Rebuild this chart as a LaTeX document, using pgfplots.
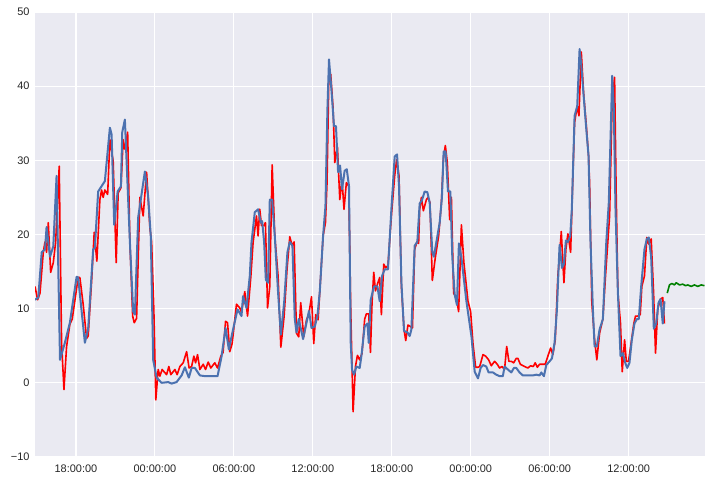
\documentclass[border=0pt]{standalone}
\usepackage{pgfplots}
\pgfplotsset{compat=1.18}
\usepackage{fontspec}
\setmainfont{Liberation Sans}
\definecolor{bgc}{HTML}{EAEAF2}
\definecolor{sblue}{HTML}{4C72B0}
\definecolor{tgray}{HTML}{262626}
\definecolor{mgreen}{HTML}{008000}
\begin{document}
\begin{tikzpicture}
\begin{axis}[
  scale only axis, width=670bp, height=445bp,
  xmin=-3.11, xmax=47.8, ymin=-10, ymax=50,
  axis background/.style={fill=bgc},
  axis line style={draw=none},
  major tick length=0pt,
  grid=major, major grid style={white, line width=1.2bp},
  xtick={0,6,12,18,24,30,36,42},
  xticklabels={18:00:00,00:00:00,06:00:00,12:00:00,18:00:00,00:00:00,06:00:00,12:00:00},
  ytick={-10,0,10,20,30,40,50},
  yticklabels={−10,0,10,20,30,40,50},
  ticklabel style={font=\fontsize{11}{13}\selectfont, text=tgray},
  xticklabel style={yshift=-4bp},
  yticklabel style={xshift=-2bp},
  clip=true,
]
\addplot[red, line width=1.6bp, line join=round] table {
-3.11 13
-2.91 11.2
-2.73 12.1
-2.48 17.6
-2.35 19
-2.23 17.6
-2.10 21.6
-1.92 14.9
-1.72 16.2
-1.54 19
-1.27 29.2
-1.09 5.4
-0.91 -0.9
-0.71 4.9
-0.46 7.9
-0.28 8.6
0.17 14.2
0.30 14.2
0.55 10.6
0.81 6
0.93 6.3
1.19 13.7
1.39 20.3
1.59 16.4
1.82 24.7
1.95 26
2.07 25
2.20 26
2.41 25.4
2.58 32.8
2.83 29.9
3.06 16.2
3.21 25.6
3.42 26.3
3.59 32.8
3.72 31.5
3.93 33.8
4.10 19
4.31 9
4.43 8.1
4.61 8.7
4.86 25
5.11 22.5
5.37 28.4
5.62 20.9
5.75 19
5.92 9.9
6.07 -2.3
6.25 1.8
6.38 0.9
6.55 1.8
6.89 1.1
7.06 2.2
7.21 1.1
7.52 1.8
7.69 1.1
7.90 2.2
8.15 2.7
8.41 4.2
8.60 2
8.79 2.2
8.96 3.6
9.09 2.7
9.24 3.8
9.42 1.8
9.67 2.5
9.85 1.8
10.05 2.8
10.25 2
10.55 2.7
10.76 2
11.01 3.6
11.18 4.1
11.37 8.3
11.52 8.1
11.69 4.2
11.87 5.3
12.20 10.6
12.45 10.1
12.58 9.5
12.83 12.3
13.04 9.0
13.29 14.3
13.46 18.9
13.72 22.5
13.84 19.8
13.97 23.4
14.10 21.2
14.28 21.2
14.40 21.6
14.56 10.1
14.73 13
14.91 29.4
15.11 19.8
15.36 14.4
15.57 4.8
15.82 9
16.04 15.3
16.25 19.7
16.42 18.5
16.58 19
16.76 6.7
16.93 6.2
17.08 10.8
17.31 6.2
17.52 8.5
17.69 9.2
17.90 11.6
18.07 5.3
18.22 9.2
18.40 8.5
18.60 14.4
18.78 19.8
18.96 21.6
19.08 27
19.21 40.5
19.36 41.6
19.54 37
19.67 29.7
19.87 31.8
20.05 24.7
20.22 27.4
20.37 23.4
20.55 27
20.73 26.5
20.88 9.9
21.06 -3.9
21.24 2.2
21.39 3.7
21.56 3.1
21.74 4
21.94 8.6
22.07 9.3
22.25 9.3
22.38 4.1
22.50 10.8
22.63 14.9
22.76 12.4
22.91 13.3
23.08 14.2
23.21 9.2
23.39 16
23.54 15.5
23.71 15.8
23.97 22.5
24.22 27.9
24.37 30.1
24.55 27.9
24.73 13
24.93 7.2
25.06 5.7
25.23 7.8
25.41 7.6
25.57 7.4
25.74 18
25.91 19
26.04 18.8
26.12 23.4
26.25 25
26.40 23.2
26.63 24.7
26.75 25
26.90 24.3
27.08 13.8
27.31 16.9
27.56 19.8
27.77 24.3
27.92 30.2
28.07 32
28.22 29.7
28.40 22
28.53 25
28.70 12.1
28.91 11.4
29.08 9.6
29.29 21.3
29.48 16.2
29.79 11
29.99 9.6
30.17 5.3
30.37 2.1
30.55 2.1
30.68 2.2
30.93 3.8
31.13 3.6
31.36 3.1
31.56 2.3
31.81 2.9
32.02 2.5
32.19 2
32.37 2.2
32.57 1.8
32.73 4.9
32.90 2.9
33.08 2.9
33.26 2.7
33.46 3.3
33.58 3.3
33.77 2.5
34.09 2.2
34.34 2
34.55 2.3
34.75 2.2
34.90 2.7
35.06 2.1
35.23 2.5
35.48 2.5
35.66 2.5
35.86 3.6
36.07 4.7
36.24 3.8
36.42 5.8
36.62 14.4
36.75 17.1
36.88 20.4
37.08 13.5
37.23 18
37.38 20.1
37.59 17.6
37.76 27.9
37.89 35.1
38.09 37.3
38.22 36
38.40 44.6
38.57 39.2
38.78 34.7
38.95 30.6
39.03 27
39.20 10.8
39.41 5.8
39.58 3.1
39.79 6.7
40.04 8.6
40.24 14.4
40.55 22.5
40.75 38.3
40.93 41.2
41.05 25.6
41.18 12.2
41.38 8
41.51 1.5
41.69 5.8
41.82 2.9
41.99 2.9
42.19 5.4
42.39 8
42.52 9
42.70 9
42.88 9.2
43.00 13
43.20 14.4
43.38 19.6
43.53 18.7
43.71 19.4
43.89 12.3
44.04 4
44.21 10
44.42 11.3
44.59 11.5
44.72 8
};
\addplot[sblue, line width=2bp, line join=round] table {
-3.11 11.2
-2.86 11.5
-2.60 17.6
-2.35 18
-2.23 21
-1.97 17
-1.72 18.4
-1.47 27.9
-1.21 3.1
-0.84 5.4
-0.46 8.1
0.05 14.3
0.17 14.2
0.68 5.4
0.93 7.3
1.31 18
1.44 18.2
1.69 25.8
2.20 27.2
2.58 34.4
2.71 33.5
2.91 21.3
3.17 25.8
3.42 26.5
3.52 33.8
3.72 35.5
4.10 19
4.35 9.6
4.48 9.2
4.73 22.3
5.24 28.5
5.49 25.1
5.69 19.7
5.87 3.1
6.13 0.7
6.51 0
7.01 0.1
7.27 -0.1
7.65 0.1
8.03 1
8.28 2.1
8.58 0.7
8.79 2
9.04 2
9.42 1
9.80 0.9
10.30 0.9
10.76 0.9
11.06 3.5
11.37 7.4
11.62 4.5
11.94 7.2
12.28 9.9
12.58 9
12.70 11.7
12.96 10.1
13.21 14.4
13.34 18.9
13.59 23
13.84 23.4
14.05 21.6
14.15 21.8
14.30 19
14.43 13.9
14.60 13.5
14.73 24.7
14.91 24.7
15.11 19.8
15.36 12.2
15.57 6.5
15.82 10.8
16.07 17.6
16.25 19
16.45 18.5
16.63 8.6
16.76 6.8
16.93 8.6
17.26 5.9
17.52 8.1
17.71 9.7
17.90 7.4
18.15 7.6
18.35 9
18.53 12.3
18.78 19.8
18.96 23.8
19.11 36.9
19.23 43.6
19.41 39.6
19.61 34.6
19.76 34.6
19.92 28.4
20.07 29.3
20.22 26.1
20.42 28.6
20.58 28.8
20.75 26.5
20.88 5.4
20.98 1.8
21.13 1.1
21.31 2.2
21.56 2
21.69 3.6
21.94 7.6
22.15 8
22.25 5.4
22.40 11.2
22.65 13
22.91 13
23.08 11
23.26 14.4
23.46 15.3
23.71 15.3
23.97 23.4
24.22 30.5
24.40 30.8
24.55 26.5
24.73 13.6
24.93 7
25.19 6.8
25.36 6.3
25.49 7.2
25.74 18.5
25.94 19
26.12 24.2
26.29 24.6
26.50 25.8
26.70 25.7
26.88 24.3
27.08 17.6
27.20 17
27.39 19
27.64 21.6
27.81 25
27.94 31.2
28.09 31.2
28.27 25.8
28.45 25.8
28.60 16.9
28.78 11.9
28.95 10.5
29.10 18.8
29.29 16.9
29.67 11
30.05 6.3
30.30 1.5
30.55 0.6
30.75 2
30.93 2.4
31.18 2.2
31.36 1.4
31.69 1.4
31.94 1.1
32.19 0.9
32.44 0.9
32.57 2.2
32.82 1.8
33.08 1.4
33.28 2
33.46 2
33.71 1.4
33.96 1
34.34 1
34.72 1
34.98 1.1
35.23 1
35.36 1.4
35.56 0.9
35.74 2.4
35.99 2.9
36.17 3.3
36.37 5.4
36.55 9.9
36.67 15.3
36.75 18.6
36.93 15.5
37.08 16
37.23 19.2
37.38 19
37.56 19.8
37.68 23.4
37.89 36
38.09 37.3
38.27 45
38.40 42.8
38.60 38.2
38.78 34.2
38.95 30.6
39.10 19
39.28 9.9
39.41 4.9
39.58 4.9
39.79 7.2
40.04 8.6
40.30 19
40.49 24.3
40.75 41.4
40.87 36.9
41.00 23.4
41.18 12.2
41.38 3.6
41.56 4
41.74 2.7
41.89 2
42.06 2.7
42.24 5.8
42.44 8
42.62 8.6
42.77 8.6
42.95 13
43.20 18
43.38 19.4
43.53 19.6
43.71 16.9
43.91 7.3
44.09 8
44.27 10.8
44.42 11.3
44.59 8
44.72 11
};
\addplot[mgreen, line width=1.6bp, line join=round] table {
44.93 12.1
45.10 13.2
45.28 13.4
45.48 13.2
45.61 13.5
45.86 13.2
46.11 13.3
46.32 13.1
46.49 13.2
46.75 13.0
47.00 13.2
47.25 13.0
47.51 13.2
47.76 13.1
};
\end{axis}
\pgfresetboundingbox
\path[use as bounding box] (-35bp,-25bp) rectangle (677bp,457bp);
\end{tikzpicture}
\end{document}
